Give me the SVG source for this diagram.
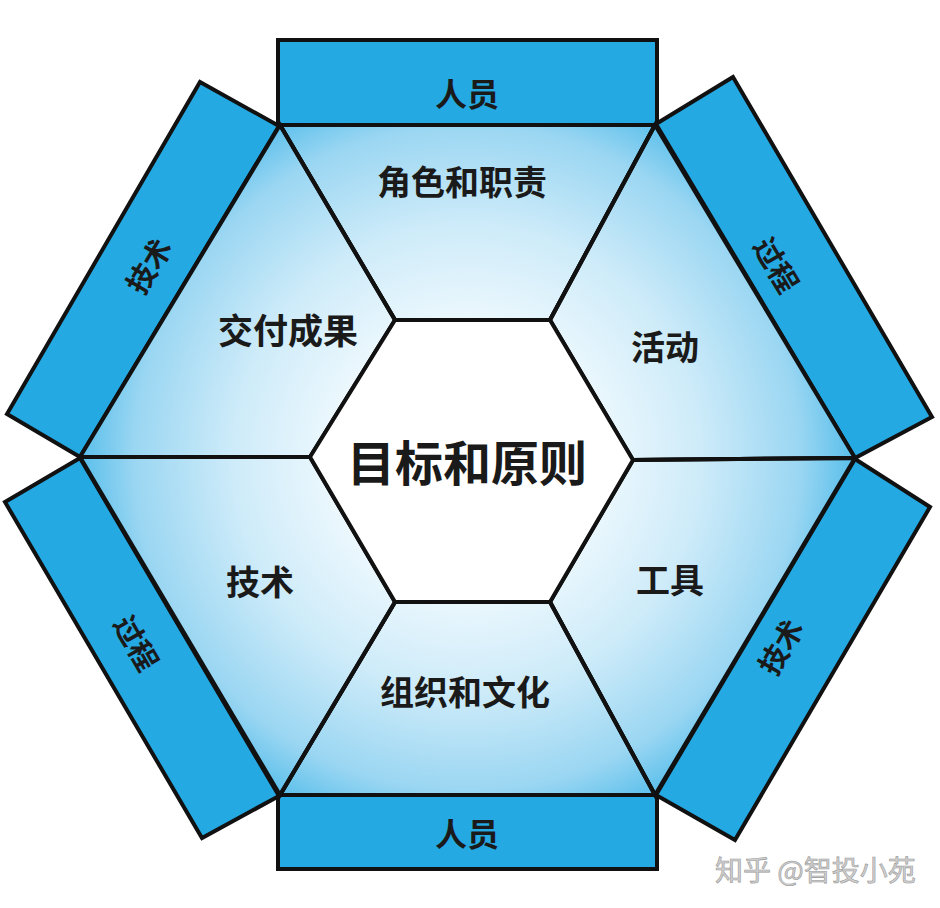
<svg xmlns="http://www.w3.org/2000/svg" width="940" height="908" viewBox="0 0 940 908">
<defs>
<radialGradient id="seg" gradientUnits="userSpaceOnUse" cx="467" cy="458" r="392">
<stop offset="0" stop-color="#ffffff"/>
<stop offset="0.3" stop-color="#f2fafe"/>
<stop offset="0.6" stop-color="#cdebf9"/>
<stop offset="0.85" stop-color="#9ad6f2"/>
<stop offset="1" stop-color="#52bcea"/>
</radialGradient>
<style>
.band{fill:#25a9e3;stroke:#111;stroke-width:4;stroke-linejoin:miter}
.seg{fill:url(#seg);stroke:#111;stroke-width:4;stroke-linejoin:miter}
.core{fill:#ffffff;stroke:#111;stroke-width:4;stroke-linejoin:miter}
.t{font-family:"Noto Sans CJK SC","Noto Sans",sans-serif;font-weight:700;fill:#1a1a1a;text-anchor:middle;dominant-baseline:central}
.wm{font-family:"Noto Sans CJK SC","Noto Sans",sans-serif;font-weight:400;fill:#d0d0d0;text-anchor:start;dominant-baseline:central;stroke:#9a9a9a;stroke-width:0.6}
</style>
</defs>
<rect width="940" height="908" fill="#ffffff"/>

<g id="band-top"><polygon class="band" points="278,40 657,40 657,125 278,125"/><text class="t" x="467" y="92" font-size="32">人员</text></g>
<g id="band-bottom"><polygon class="band" points="278,795 657,795 657,869 278,869"/><text class="t" x="467" y="832" font-size="32">人员</text></g>
<g id="band-tl"><polygon class="band" points="200,82 279,126 80,457 7,414"/><text class="t" transform="translate(147,265) rotate(-59)" font-size="29">技术</text></g>
<g id="band-tr"><polygon class="band" points="733,77 656,124 855,458 932,417"/><text class="t" transform="translate(778,264) rotate(59)" font-size="29">过程</text></g>
<g id="band-bl"><polygon class="band" points="80,458 5,502 202,838 279,796"/><text class="t" transform="translate(138,642) rotate(60)" font-size="29">过程</text></g>
<g id="band-br"><polygon class="band" points="855,459 930,507 735,840 656,795"/><text class="t" transform="translate(779,646) rotate(-60)" font-size="29">技术</text></g>

<g id="seg-top"><polygon class="seg" points="280,125 655,125 550,320 395,320"/><text class="t" x="462" y="180" font-size="34">角色和职责</text></g>
<g id="seg-tr"><polygon class="seg" points="655,125 855,458 633,460 550,320"/><text class="t" x="665" y="345" font-size="34">活动</text></g>
<g id="seg-br"><polygon class="seg" points="855,458 655,795 550,602 633,460"/><text class="t" x="670" y="578" font-size="34">工具</text></g>
<g id="seg-bottom"><polygon class="seg" points="655,795 280,795 395,602 550,602"/><text class="t" x="465" y="690" font-size="34">组织和文化</text></g>
<g id="seg-bl"><polygon class="seg" points="280,795 80,457 310,457 395,602"/><text class="t" x="260" y="580" font-size="34">技术</text></g>
<g id="seg-tl"><polygon class="seg" points="80,457 280,125 395,320 310,457"/><text class="t" x="288" y="328" font-size="35">交付成果</text></g>

<g id="core"><polygon class="core" points="395,320 550,320 633,460 550,602 395,602 310,457"/><text class="t" x="467" y="460" font-size="48">目标和原则</text></g>

<g id="connectors" stroke="#111" stroke-width="4" fill="none">
<line x1="395" y1="320" x2="280" y2="125"/>
<line x1="550" y1="320" x2="655" y2="125"/>
<line x1="633" y1="460" x2="855" y2="458"/>
<line x1="550" y1="602" x2="655" y2="795"/>
<line x1="395" y1="602" x2="280" y2="795"/>
<line x1="310" y1="457" x2="80" y2="457"/>
</g>

<text class="wm" x="715" y="869" font-size="28">知乎 @智投小苑</text>
</svg>
